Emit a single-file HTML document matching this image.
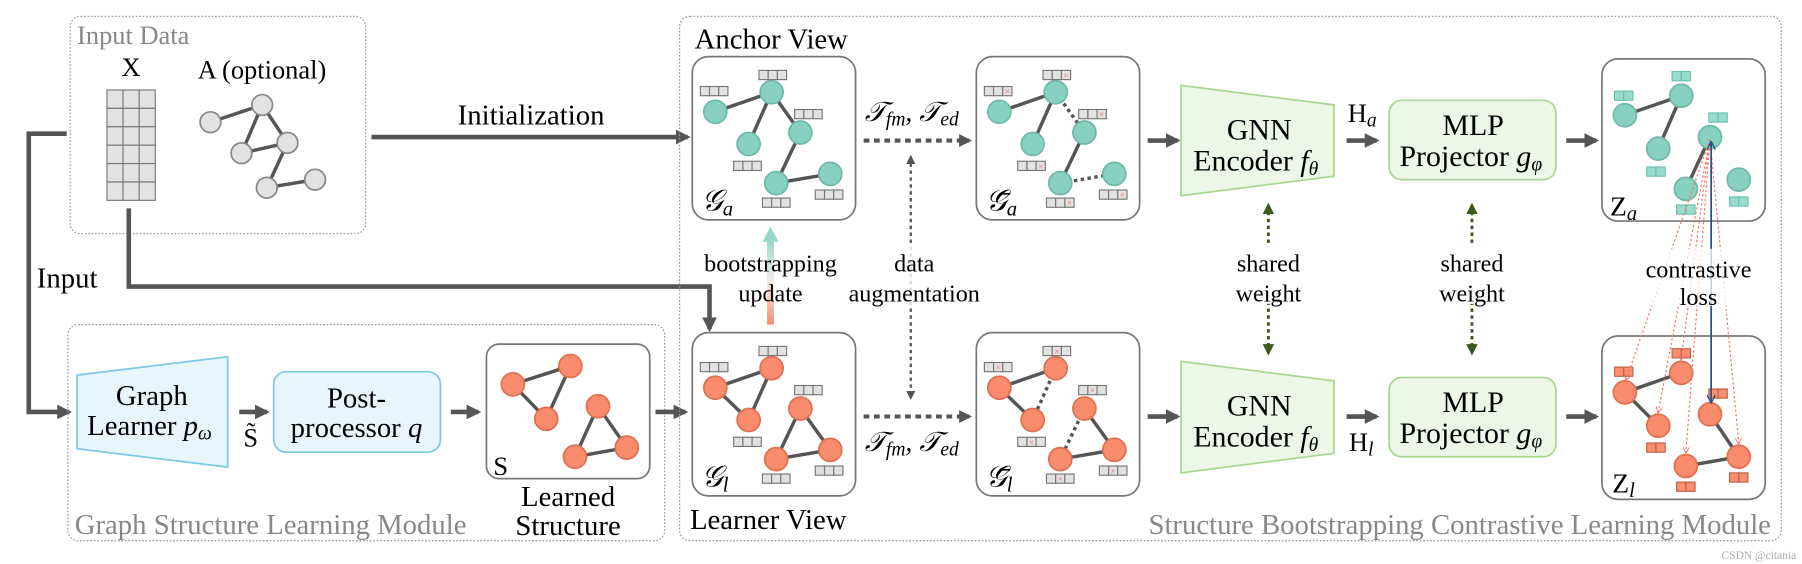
<!DOCTYPE html>
<html><head><meta charset="utf-8"><style>
html,body{margin:0;padding:0;background:#fff}
svg{display:block}
text{font-family:"Liberation Serif","DejaVu Serif",serif}
</style></head><body>
<svg width="1802" height="564" viewBox="0 0 1567 490" xmlns="http://www.w3.org/2000/svg">
<defs>
<marker id="ah" viewBox="0 0 10 10" refX="8" refY="5" markerWidth="3.2" markerHeight="3.2" orient="auto"><path d="M0,0L10,5L0,10z" fill="#555"/></marker>
<marker id="ahd" viewBox="0 0 10 10" refX="8" refY="5" markerWidth="4" markerHeight="4" orient="auto-start-reverse"><path d="M0,0L10,5L0,10z" fill="#555"/></marker>
<marker id="ahg" viewBox="0 0 10 10" refX="8" refY="5" markerWidth="4" markerHeight="4" orient="auto-start-reverse"><path d="M0,0L10,5L0,10z" fill="#3b5a1e"/></marker>
<marker id="ahb" viewBox="0 0 10 10" refX="8" refY="5" markerWidth="5" markerHeight="5" orient="auto-start-reverse"><path d="M0,0L10,5L0,10" fill="none" stroke="#2a4f80" stroke-width="1.5"/></marker>
<marker id="ahr" viewBox="0 0 10 10" refX="8" refY="5" markerWidth="6" markerHeight="6" orient="auto"><path d="M0,0L10,5L0,10" fill="none" stroke="#f87060" stroke-width="1.2"/></marker>
<g id="bar3"><rect x="0" y="0" width="8" height="8" fill="#e2e2e2" stroke="#777" stroke-width="1"/><rect x="8" y="0" width="8" height="8" fill="#e2e2e2" stroke="#777" stroke-width="1"/><rect x="16" y="0" width="8" height="8" fill="#e2e2e2" stroke="#777" stroke-width="1"/></g>
<g id="bar3x"><use href="#bar3"/><text x="20" y="7" font-size="8" fill="#f07060" text-anchor="middle" font-family="DejaVu Sans">×</text></g>
<g id="bar3m"><use href="#bar3"/><text x="12" y="7" font-size="8" fill="#f07060" text-anchor="middle" font-family="DejaVu Sans">×</text></g>
<g id="bt"><rect x="0" y="0" width="8" height="8" fill="#9adccc" stroke="#6cc0b0"/><rect x="8" y="0" width="8" height="8" fill="#9adccc" stroke="#6cc0b0"/></g>
<g id="bo"><rect x="0" y="0" width="8" height="8" fill="#f89070" stroke="#c06048"/><rect x="8" y="0" width="8" height="8" fill="#f89070" stroke="#c06048"/></g>
<g id="tn"><circle r="10" fill="#88d0c0" stroke="#70b8a8" stroke-width="1.5"/></g>
<g id="on"><circle r="10" fill="#f88c6c" stroke="#e07050" stroke-width="1.5"/></g>
<linearGradient id="bg" x1="0" y1="1" x2="0" y2="0"><stop offset="0" stop-color="#f88c6c"/><stop offset="0.5" stop-color="#f3eeea"/><stop offset="1" stop-color="#9ad6c8"/></linearGradient>
</defs>

<!-- Input Data -->
<rect x="61" y="14" width="257" height="189" rx="9" fill="none" stroke="#999" stroke-dasharray="1.5,1.5"/>
<text x="67" y="38" font-size="23" fill="#888">Input Data</text>
<text x="114" y="66" font-size="23" text-anchor="middle">X</text>
<text x="172" y="68" font-size="23">A (optional)</text>
<g fill="#e2e2e2" stroke="#777" stroke-width="1">
<rect x="93" y="78" width="42" height="16"/><rect x="93" y="94" width="42" height="16"/><rect x="93" y="110" width="42" height="16"/><rect x="93" y="126" width="42" height="16"/><rect x="93" y="142" width="42" height="16"/><rect x="93" y="158" width="42" height="16"/>
<line x1="107" y1="78" x2="107" y2="174"/><line x1="121" y1="78" x2="121" y2="174"/>
</g>
<g stroke="#555" stroke-width="3"><line x1="183" y1="106" x2="228" y2="91"/><line x1="228" y1="91" x2="210" y2="133"/><line x1="228" y1="91" x2="250" y2="124"/><line x1="210" y1="133" x2="250" y2="124"/><line x1="250" y1="124" x2="232" y2="163"/><line x1="232" y1="163" x2="274" y2="156"/></g>
<g fill="#e2e2e2" stroke="#888" stroke-width="1.5"><circle cx="183" cy="106" r="9"/><circle cx="228" cy="91" r="9"/><circle cx="250" cy="124" r="9"/><circle cx="210" cy="133" r="9"/><circle cx="232" cy="163" r="9"/><circle cx="274" cy="156" r="9"/></g>

<!-- arrows main -->
<line x1="323" y1="119" x2="598" y2="119" stroke="#555" stroke-width="4" marker-end="url(#ah)"/>
<text x="398" y="108" font-size="25">Initialization</text>
<polyline points="58,116 25,116 25,358 60,358" fill="none" stroke="#555" stroke-width="4" marker-end="url(#ah)"/>
<text x="32" y="250" font-size="25">Input</text>
<polyline points="112,181 112,249 617,249 617,286" fill="none" stroke="#555" stroke-width="4" marker-end="url(#ah)"/>

<!-- GSL module -->
<rect x="59" y="282" width="519" height="188" rx="9" fill="none" stroke="#999" stroke-dasharray="1.5,1.5"/>
<text x="65" y="464" font-size="25" fill="#888">Graph Structure Learning Module</text>
<polygon points="67,326 198,310 198,406 67,390" fill="#e6f6fb" stroke="#7ec8e3" stroke-width="1.5"/>
<text x="132" y="352" font-size="25" text-anchor="middle">Graph</text>
<text x="130" y="378" font-size="25" text-anchor="middle">Learner <tspan font-style="italic">p</tspan><tspan font-style="italic" font-size="17" dy="4">ω</tspan></text>
<line x1="208" y1="358" x2="232" y2="358" stroke="#555" stroke-width="4" marker-end="url(#ah)"/>
<text x="218" y="388" font-size="23" text-anchor="middle">S̃</text>
<rect x="238" y="323" width="145" height="70" rx="11" fill="#e6f6fb" stroke="#7ec8e3" stroke-width="1.5"/>
<text x="310" y="354" font-size="25" text-anchor="middle">Post-</text>
<text x="310" y="380" font-size="25" text-anchor="middle">processor <tspan font-style="italic">q</tspan></text>
<line x1="392" y1="358" x2="416" y2="358" stroke="#555" stroke-width="4" marker-end="url(#ah)"/>
<rect x="423" y="299" width="142" height="117" rx="11" fill="#fff" stroke="#777" stroke-width="1.5"/>
<g stroke="#555" stroke-width="3"><line x1="446" y1="334" x2="496" y2="318"/><line x1="446" y1="334" x2="475" y2="364"/><line x1="496" y1="318" x2="475" y2="364"/><line x1="520" y1="353" x2="500" y2="397"/><line x1="520" y1="353" x2="545" y2="389"/><line x1="500" y1="397" x2="545" y2="389"/></g>
<use href="#on" x="446" y="334"/><use href="#on" x="496" y="318"/><use href="#on" x="475" y="364"/><use href="#on" x="520" y="353"/><use href="#on" x="500" y="397"/><use href="#on" x="545" y="389"/>
<text x="429" y="413" font-size="23">S</text>
<text x="494" y="440" font-size="25" text-anchor="middle">Learned</text>
<text x="494" y="465" font-size="25" text-anchor="middle">Structure</text>
<line x1="570" y1="358" x2="596" y2="358" stroke="#555" stroke-width="4" marker-end="url(#ah)"/>

<!-- SBCL module -->
<rect x="591" y="14" width="958" height="456" rx="9" fill="none" stroke="#999" stroke-dasharray="1.5,1.5"/>
<text x="1540" y="464" font-size="25" fill="#888" text-anchor="end">Structure Bootstrapping Contrastive Learning Module</text>
<text x="604" y="42" font-size="25">Anchor View</text>
<text x="600" y="460" font-size="25">Learner View</text>

<!-- Anchor graph -->
<g transform="translate(602,49)">
<rect x="0" y="0" width="142" height="142" rx="14" fill="#fff" stroke="#777" stroke-width="1.5"/>
<g stroke="#555" stroke-width="3"><line x1="20" y1="48" x2="69" y2="31"/><line x1="69" y1="31" x2="49" y2="76"/><line x1="69" y1="31" x2="94" y2="66"/><line x1="94" y1="66" x2="73" y2="110"/><line x1="73" y1="110" x2="120" y2="102"/></g>
<use href="#tn" x="20" y="48"/><use href="#tn" x="69" y="31"/><use href="#tn" x="49" y="76"/><use href="#tn" x="94" y="66"/><use href="#tn" x="73" y="110"/><use href="#tn" x="120" y="102"/>
<use href="#bar3" x="7" y="26"/><use href="#bar3" x="58" y="12"/><use href="#bar3" x="89" y="46"/><use href="#bar3" x="36" y="91"/><use href="#bar3" x="61" y="123"/><use href="#bar3" x="107" y="116"/>
<text x="8" y="134" font-size="26" font-style="italic">𝒢<tspan font-size="18" dy="4">a</tspan></text>
</g>
<!-- G bar a -->
<g transform="translate(849,49)">
<rect x="0" y="0" width="142" height="142" rx="14" fill="#fff" stroke="#777" stroke-width="1.5"/>
<g stroke="#555" stroke-width="3"><line x1="20" y1="48" x2="69" y2="31"/><line x1="69" y1="31" x2="49" y2="76"/><line x1="94" y1="66" x2="73" y2="110"/></g>
<g stroke="#555" stroke-width="3" stroke-dasharray="3,3"><line x1="69" y1="31" x2="94" y2="66"/><line x1="73" y1="110" x2="120" y2="102"/></g>
<use href="#tn" x="20" y="48"/><use href="#tn" x="69" y="31"/><use href="#tn" x="49" y="76"/><use href="#tn" x="94" y="66"/><use href="#tn" x="73" y="110"/><use href="#tn" x="120" y="102"/>
<use href="#bar3x" x="7" y="26"/><use href="#bar3x" x="58" y="12"/><use href="#bar3x" x="89" y="46"/><use href="#bar3x" x="36" y="91"/><use href="#bar3x" x="61" y="123"/><use href="#bar3x" x="107" y="116"/>
<text x="8" y="134" font-size="26" font-style="italic">𝒢̄<tspan font-size="18" dy="4">a</tspan></text>
</g>
<!-- Learner -->
<g transform="translate(602,289)">
<rect x="0" y="0" width="142" height="142" rx="14" fill="#fff" stroke="#777" stroke-width="1.5"/>
<g stroke="#555" stroke-width="3"><line x1="20" y1="48" x2="69" y2="31"/><line x1="20" y1="48" x2="49" y2="76"/><line x1="69" y1="31" x2="49" y2="76"/><line x1="94" y1="66" x2="73" y2="110"/><line x1="94" y1="66" x2="120" y2="102"/><line x1="73" y1="110" x2="120" y2="102"/></g>
<use href="#on" x="20" y="48"/><use href="#on" x="69" y="31"/><use href="#on" x="49" y="76"/><use href="#on" x="94" y="66"/><use href="#on" x="73" y="110"/><use href="#on" x="120" y="102"/>
<use href="#bar3" x="7" y="26"/><use href="#bar3" x="58" y="12"/><use href="#bar3" x="89" y="46"/><use href="#bar3" x="36" y="91"/><use href="#bar3" x="61" y="123"/><use href="#bar3" x="107" y="116"/>
<text x="8" y="134" font-size="26" font-style="italic">𝒢<tspan font-size="18" dy="4">l</tspan></text>
</g>
<g transform="translate(849,289)">
<rect x="0" y="0" width="142" height="142" rx="14" fill="#fff" stroke="#777" stroke-width="1.5"/>
<g stroke="#555" stroke-width="3"><line x1="20" y1="48" x2="69" y2="31"/><line x1="20" y1="48" x2="49" y2="76"/><line x1="94" y1="66" x2="120" y2="102"/><line x1="73" y1="110" x2="120" y2="102"/></g>
<g stroke="#555" stroke-width="3" stroke-dasharray="3,3"><line x1="69" y1="31" x2="49" y2="76"/><line x1="94" y1="66" x2="73" y2="110"/></g>
<use href="#on" x="20" y="48"/><use href="#on" x="69" y="31"/><use href="#on" x="49" y="76"/><use href="#on" x="94" y="66"/><use href="#on" x="73" y="110"/><use href="#on" x="120" y="102"/>
<use href="#bar3m" x="7" y="26"/><use href="#bar3m" x="58" y="12"/><use href="#bar3m" x="89" y="46"/><use href="#bar3m" x="36" y="91"/><use href="#bar3m" x="61" y="123"/><use href="#bar3m" x="107" y="116"/>
<text x="8" y="134" font-size="26" font-style="italic">𝒢̄<tspan font-size="18" dy="4">l</tspan></text>
</g>

<!-- augmentation arrows -->
<line x1="751" y1="122" x2="843" y2="122" stroke="#555" stroke-width="3.5" stroke-dasharray="5,4" marker-end="url(#ah)"/>
<line x1="751" y1="362" x2="843" y2="362" stroke="#555" stroke-width="3.5" stroke-dasharray="5,4" marker-end="url(#ah)"/>
<text x="752" y="105" font-size="24" font-style="italic">𝒯<tspan font-size="17" dy="4">fm</tspan><tspan dy="-4">, 𝒯</tspan><tspan font-size="17" dy="4">ed</tspan></text>
<text x="752" y="392" font-size="24" font-style="italic">𝒯<tspan font-size="17" dy="4">fm</tspan><tspan dy="-4">, 𝒯</tspan><tspan font-size="17" dy="4">ed</tspan></text>
<line x1="792" y1="136" x2="792" y2="346" stroke="#555" stroke-width="2" stroke-dasharray="3,3" marker-start="url(#ahd)" marker-end="url(#ahd)"/>
<rect x="735" y="213" width="120" height="52" fill="#fff" fill-opacity="0.8"/>
<text x="795" y="236" font-size="21" text-anchor="middle">data</text>
<text x="795" y="262" font-size="21" text-anchor="middle">augmentation</text>
<rect x="667" y="208" width="6" height="74" fill="url(#bg)"/>
<polygon points="663,210 670,197 677,210" fill="#9ad6c8"/>
<text x="670" y="236" font-size="21" text-anchor="middle">bootstrapping</text>
<text x="670" y="262" font-size="21" text-anchor="middle">update</text>

<!-- Encoders -->
<line x1="998" y1="122" x2="1024" y2="122" stroke="#555" stroke-width="4" marker-end="url(#ah)"/>
<line x1="998" y1="362" x2="1024" y2="362" stroke="#555" stroke-width="4" marker-end="url(#ah)"/>
<polygon points="1027,74 1160,91 1160,153 1027,170" fill="#edf7e6" stroke="#a8d890" stroke-width="1.5"/>
<polygon points="1027,314 1160,331 1160,394 1027,411" fill="#edf7e6" stroke="#a8d890" stroke-width="1.5"/>
<text x="1095" y="121" font-size="26" text-anchor="middle">GNN</text>
<text x="1092" y="148" font-size="26" text-anchor="middle">Encoder <tspan font-style="italic">f</tspan><tspan font-style="italic" font-size="17" dy="4">θ</tspan></text>
<text x="1095" y="361" font-size="26" text-anchor="middle">GNN</text>
<text x="1092" y="388" font-size="26" text-anchor="middle">Encoder <tspan font-style="italic">f</tspan><tspan font-style="italic" font-size="17" dy="4">θ</tspan></text>
<line x1="1171" y1="122" x2="1197" y2="122" stroke="#555" stroke-width="4" marker-end="url(#ah)"/>
<line x1="1171" y1="362" x2="1197" y2="362" stroke="#555" stroke-width="4" marker-end="url(#ah)"/>
<text x="1172" y="106" font-size="23">H<tspan font-style="italic" font-size="17" dy="4">a</tspan></text>
<text x="1173" y="392" font-size="23">H<tspan font-style="italic" font-size="17" dy="4">l</tspan></text>
<rect x="1208" y="87" width="145" height="69" rx="11" fill="#edf7e6" stroke="#a8d890" stroke-width="1.5"/>
<rect x="1208" y="328" width="145" height="69" rx="11" fill="#edf7e6" stroke="#a8d890" stroke-width="1.5"/>
<text x="1281" y="117" font-size="26" text-anchor="middle">MLP</text>
<text x="1279" y="144" font-size="26" text-anchor="middle">Projector <tspan font-style="italic">g</tspan><tspan font-style="italic" font-size="17" dy="4">φ</tspan></text>
<text x="1281" y="358" font-size="26" text-anchor="middle">MLP</text>
<text x="1279" y="385" font-size="26" text-anchor="middle">Projector <tspan font-style="italic">g</tspan><tspan font-style="italic" font-size="17" dy="4">φ</tspan></text>
<line x1="1362" y1="122" x2="1388" y2="122" stroke="#555" stroke-width="4" marker-end="url(#ah)"/>
<line x1="1362" y1="362" x2="1388" y2="362" stroke="#555" stroke-width="4" marker-end="url(#ah)"/>

<line x1="1103" y1="178" x2="1103" y2="307" stroke="#3b5a1e" stroke-width="2.5" stroke-dasharray="3,3" marker-start="url(#ahg)" marker-end="url(#ahg)"/>
<line x1="1280" y1="178" x2="1280" y2="307" stroke="#3b5a1e" stroke-width="2.5" stroke-dasharray="3,3" marker-start="url(#ahg)" marker-end="url(#ahg)"/>
<rect x="1063" y="214" width="80" height="50" fill="#fff"/>
<rect x="1240" y="214" width="80" height="50" fill="#fff"/>
<text x="1103" y="236" font-size="21" text-anchor="middle">shared</text>
<text x="1103" y="262" font-size="21" text-anchor="middle">weight</text>
<text x="1280" y="236" font-size="21" text-anchor="middle">shared</text>
<text x="1280" y="262" font-size="21" text-anchor="middle">weight</text>

<!-- Z boxes -->
<g transform="translate(1393,51)">
<rect x="0" y="0" width="142" height="141" rx="14" fill="#fff" stroke="#777" stroke-width="1.5"/>
<g stroke="#555" stroke-width="3"><line x1="20" y1="49" x2="69" y2="32"/><line x1="69" y1="32" x2="49" y2="78"/><line x1="94" y1="68" x2="73" y2="113"/></g>
<use href="#tn" x="20" y="49"/><use href="#tn" x="69" y="32"/><use href="#tn" x="49" y="78"/><use href="#tn" x="94" y="68"/><use href="#tn" x="73" y="113"/><use href="#tn" x="119" y="105"/>
<use href="#bt" x="11" y="28"/><use href="#bt" x="61" y="11"/><use href="#bt" x="93" y="47"/><use href="#bt" x="39" y="94"/><use href="#bt" x="65" y="127"/><use href="#bt" x="111" y="120"/>
<text x="7" y="136" font-size="24">Z<tspan font-style="italic" font-size="18" dy="4">a</tspan></text>
</g>
<g transform="translate(1393,292)">
<rect x="0" y="0" width="142" height="142" rx="14" fill="#fff" stroke="#777" stroke-width="1.5"/>
<g stroke="#555" stroke-width="3"><line x1="20" y1="49" x2="69" y2="32"/><line x1="20" y1="49" x2="49" y2="78"/><line x1="94" y1="68" x2="119" y2="105"/><line x1="73" y1="113" x2="119" y2="105"/></g>
<use href="#on" x="20" y="49"/><use href="#on" x="69" y="32"/><use href="#on" x="49" y="78"/><use href="#on" x="94" y="68"/><use href="#on" x="73" y="113"/><use href="#on" x="119" y="105"/>
<use href="#bo" x="11" y="27"/><use href="#bo" x="61" y="11"/><use href="#bo" x="93" y="46"/><use href="#bo" x="39" y="93"/><use href="#bo" x="65" y="127"/><use href="#bo" x="111" y="119"/>
<text x="9" y="136" font-size="24">Z<tspan font-style="italic" font-size="18" dy="4">l</tspan></text>
</g>
<g stroke="#f87060" stroke-width="1" stroke-dasharray="2,2" fill="none">
<line x1="1487" y1="121" x2="1414" y2="330" marker-end="url(#ahr)"/>
<line x1="1487" y1="121" x2="1462" y2="312" marker-end="url(#ahr)"/>
<line x1="1487" y1="121" x2="1442" y2="358" marker-end="url(#ahr)"/>
<line x1="1487" y1="121" x2="1466" y2="393" marker-end="url(#ahr)"/>
<line x1="1487" y1="121" x2="1512" y2="385" marker-end="url(#ahr)"/>
</g>
<line x1="1488" y1="124" x2="1488" y2="349" stroke="#2a4f80" stroke-width="1.5" marker-start="url(#ahb)" marker-end="url(#ahb)"/>
<rect x="1426" y="216" width="104" height="50" fill="#fff" fill-opacity="0.75"/>
<text x="1477" y="241" font-size="21" text-anchor="middle">contrastive</text>
<text x="1477" y="265" font-size="21" text-anchor="middle">loss</text>
<text x="1562" y="486" font-size="10" fill="#aaa" text-anchor="end" font-family="Liberation Sans,sans-serif">CSDN @citania</text>
</svg>
</body></html>
